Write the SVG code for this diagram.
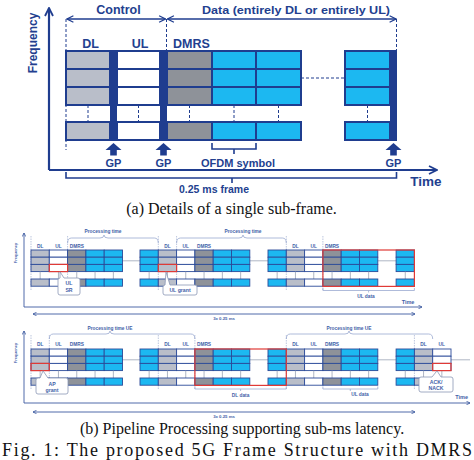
<svg xmlns="http://www.w3.org/2000/svg" width="474" height="460" viewBox="0 0 474 460">
<style>
.at{font-family:"Liberation Sans",Arial,sans-serif;font-weight:bold;fill:#233f8f}
.cell{stroke:#1f3d8f;stroke-width:2}
.dl{fill:#b9bec9}.ul{fill:#fff}.dm{fill:#8e9299}.cy{fill:#1cb8f1}
.gp{fill:#1f3d8f}
.dash{stroke:#1f3d8f;stroke-width:1;stroke-dasharray:3 2;fill:none}
.ax{stroke:#1f3d8f;stroke-width:2.2;fill:none}
.br{stroke:#1f3d8f;stroke-width:1.6;fill:none}
.cap{font-family:"Liberation Serif","Times New Roman",serif;fill:#111}
.bt{font-family:"Liberation Sans",Arial,sans-serif;font-weight:bold;fill:#4361a8}
.bc{stroke:#2b4a99;stroke-width:0.9}
.bdash{stroke:#8ea0c8;stroke-width:0.6;stroke-dasharray:1.5 1;fill:none}
.bax{stroke:#3d5aa0;stroke-width:0.9;fill:none}
.brace{stroke:#9aaad0;stroke-width:0.8;fill:none}
.red{stroke:#e03a36;stroke-width:1.2;fill:none}
.gline{stroke:#9aa3b5;stroke-width:0.8}
.call{fill:#fff;stroke:#8a97b5;stroke-width:0.8}
</style>
<defs>
<marker id="ah" viewBox="0 0 10 10" refX="9" refY="5" markerWidth="8" markerHeight="8" markerUnits="userSpaceOnUse" orient="auto-start-reverse"><path d="M1,1 L9,5 L1,9" fill="none" stroke="#1f3d8f" stroke-width="1.6"/></marker>
<marker id="ahL" viewBox="0 0 10 10" refX="9" refY="5" markerWidth="10" markerHeight="10" markerUnits="userSpaceOnUse" orient="auto-start-reverse"><path d="M1,1 L9,5 L1,9" fill="none" stroke="#1f3d8f" stroke-width="1.8"/></marker>
<marker id="ahs" viewBox="0 0 10 10" refX="9" refY="5" markerWidth="4.5" markerHeight="4.5" markerUnits="userSpaceOnUse" orient="auto-start-reverse"><path d="M1,1 L9,5 L1,9" fill="none" stroke="#3d5aa0" stroke-width="1.8"/></marker>
<path id="gparr" class="gp" d="M-8,150 L0,143 L8,150 L3.3,150 L3.3,155.5 L-3.3,155.5 L-3.3,150 Z"/>
<g id="cDL"><rect class="bc dl" x="0" y="0" width="18.3" height="7.2"/><rect class="bc dl" x="0" y="7.2" width="18.3" height="7.2"/><rect class="bc dl" x="0" y="14.4" width="18.3" height="7.2"/><line class="gline" x1="9.15" y1="21.6" x2="9.15" y2="29"/><rect class="bc dl" x="0" y="29" width="18.3" height="7.2"/></g>
<g id="cUL"><rect class="bc ul" x="0" y="0" width="18.3" height="7.2"/><rect class="bc ul" x="0" y="7.2" width="18.3" height="7.2"/><rect class="bc ul" x="0" y="14.4" width="18.3" height="7.2"/><line class="gline" x1="9.15" y1="21.6" x2="9.15" y2="29"/><rect class="bc ul" x="0" y="29" width="18.3" height="7.2"/></g>
<g id="cDM"><rect class="bc dm" x="0" y="0" width="18.3" height="7.2"/><rect class="bc dm" x="0" y="7.2" width="18.3" height="7.2"/><rect class="bc dm" x="0" y="14.4" width="18.3" height="7.2"/><line class="gline" x1="9.15" y1="21.6" x2="9.15" y2="29"/><rect class="bc dm" x="0" y="29" width="18.3" height="7.2"/></g>
<g id="cCY"><rect class="bc cy" x="0" y="0" width="18.3" height="7.2"/><rect class="bc cy" x="0" y="7.2" width="18.3" height="7.2"/><rect class="bc cy" x="0" y="14.4" width="18.3" height="7.2"/><line class="gline" x1="9.15" y1="21.6" x2="9.15" y2="29"/><rect class="bc cy" x="0" y="29" width="18.3" height="7.2"/></g>
</defs>
<rect width="474" height="460" fill="#fff"/>

<!-- (a) -->
<g id="a-axes">
<line class="ax" x1="49" y1="170" x2="49" y2="8" marker-end="url(#ahL)"/>
<line class="ax" x1="49" y1="170" x2="437" y2="170" marker-end="url(#ahL)"/>
<text class="at" x="37" y="43" font-size="12" text-anchor="middle" transform="rotate(-90 37 43)">Frequency</text>
<text class="at" x="426" y="185.5" font-size="13.5" text-anchor="middle">Time</text>
</g>
<g id="a-dashes">
<line class="dash" x1="66" y1="19" x2="66" y2="150"/>
<line class="dash" x1="166.5" y1="19" x2="166.5" y2="51"/>
<line class="dash" x1="396.5" y1="19" x2="396.5" y2="51"/>
<line class="dash" x1="88" y1="105" x2="88" y2="122"/>
<line class="dash" x1="138.5" y1="105" x2="138.5" y2="122"/>
<line class="dash" x1="189.5" y1="105" x2="189.5" y2="122"/>
<line class="dash" x1="234" y1="105" x2="234" y2="122"/>
<line class="dash" x1="278.5" y1="105" x2="278.5" y2="122"/>
<line class="dash" x1="367.5" y1="105" x2="367.5" y2="122"/>
<line class="dash" x1="301" y1="78" x2="345" y2="78"/>
</g>
<g id="a-control">
<line class="br" x1="67" y1="19" x2="165.5" y2="19" marker-start="url(#ah)" marker-end="url(#ah)"/>
<text class="at" x="118.5" y="14" font-size="12.5" text-anchor="middle">Control</text>
</g>
<g id="a-data">
<line class="br" x1="167.5" y1="19" x2="396" y2="19" marker-start="url(#ah)" marker-end="url(#ah)"/>
<text class="at" x="202" y="14" font-size="11.5" textLength="188" lengthAdjust="spacingAndGlyphs">Data (entirely DL or entirely UL)</text>
</g>
<g id="a-labels">
<text class="at" x="90.5" y="48" font-size="12.5" text-anchor="middle">DL</text>
<text class="at" x="140" y="48" font-size="12.5" text-anchor="middle">UL</text>
<text class="at" x="191.5" y="48" font-size="12.5" text-anchor="middle">DMRS</text>
</g>
<g id="a-grid">
<rect class="cell dl" x="66" y="51" width="44" height="18"/>
<rect class="cell dl" x="66" y="69" width="44" height="18"/>
<rect class="cell dl" x="66" y="87" width="44" height="18"/>
<rect class="cell dl" x="66" y="122" width="44" height="18"/>
<rect class="cell ul" x="117" y="51" width="43" height="18"/>
<rect class="cell ul" x="117" y="69" width="43" height="18"/>
<rect class="cell ul" x="117" y="87" width="43" height="18"/>
<rect class="cell ul" x="117" y="122" width="43" height="18"/>
<rect class="cell dm" x="167" y="51" width="45" height="18"/>
<rect class="cell dm" x="167" y="69" width="45" height="18"/>
<rect class="cell dm" x="167" y="87" width="45" height="18"/>
<rect class="cell dm" x="167" y="122" width="45" height="18"/>
<rect class="cell cy" x="212" y="51" width="44" height="18"/>
<rect class="cell cy" x="212" y="69" width="44" height="18"/>
<rect class="cell cy" x="212" y="87" width="44" height="18"/>
<rect class="cell cy" x="212" y="122" width="44" height="18"/>
<rect class="cell cy" x="256" y="51" width="45" height="18"/>
<rect class="cell cy" x="256" y="69" width="45" height="18"/>
<rect class="cell cy" x="256" y="87" width="45" height="18"/>
<rect class="cell cy" x="256" y="122" width="45" height="18"/>
<rect class="cell cy" x="345" y="51" width="45" height="18"/>
<rect class="cell cy" x="345" y="69" width="45" height="18"/>
<rect class="cell cy" x="345" y="87" width="45" height="18"/>
<rect class="cell cy" x="345" y="122" width="45" height="18"/>
<rect class="gp" x="110" y="50" width="7" height="91"/>
<rect class="gp" x="160" y="50" width="7" height="91"/>
<rect class="gp" x="390" y="50" width="7" height="91"/>
</g>
<g id="a-gp">
<use href="#gparr" x="113.5"/>
<use href="#gparr" x="163.5"/>
<use href="#gparr" x="393.5"/>
<text class="at" x="113.5" y="166.5" font-size="11" text-anchor="middle">GP</text>
<text class="at" x="163.5" y="166.5" font-size="11" text-anchor="middle">GP</text>
<text class="at" x="393.5" y="166.5" font-size="11" text-anchor="middle">GP</text>
</g>
<g id="a-ofdm">
<path class="br" d="M212,143 V149 H256 V143 M234,149 V154"/>
<text class="at" x="238" y="166.5" font-size="11" text-anchor="middle">OFDM symbol</text>
</g>
<g id="a-frame">
<path class="br" d="M66,172 V178 H396.5 V172 M232,178 V183"/>
<text class="at" x="214" y="193" font-size="10.5" text-anchor="middle">0.25 ms frame</text>
</g>
<text class="cap" x="231.5" y="214" font-size="16" text-anchor="middle">(a) Details of a single sub-frame.</text>

<!-- (b) panel 1 -->
<g id="b1-axes">
<line class="bax" x1="24" y1="307" x2="24" y2="233" marker-end="url(#ahs)"/>
<line class="bax" x1="24" y1="307" x2="422" y2="307" marker-end="url(#ahs)"/>
<text class="bt" x="17" y="253" font-size="4" text-anchor="middle" transform="rotate(-90 17 253)">Frequency</text>
<text class="bt" x="408" y="304" font-size="5.5" text-anchor="middle">Time</text>
</g>
<g id="b1-dashes">
<line class="bdash" x1="31" y1="236" x2="31" y2="290"/>
<line class="bdash" x1="67.6" y1="236" x2="67.6" y2="290"/>
<line class="bdash" x1="158.3" y1="236" x2="158.3" y2="290"/>
<line class="bdash" x1="176.6" y1="236" x2="176.6" y2="290"/>
<line class="bdash" x1="286.3" y1="236" x2="286.3" y2="290"/>
<line class="bdash" x1="322.9" y1="236" x2="322.9" y2="290"/>
</g>
<g id="b1-braces">
<path class="brace" d="M67.6,243 Q67.6,238 71.6,238 H100 Q104,238 104,235 Q104,238 108,238 H154.3 Q158.3,238 158.3,243"/>
<text class="bt" x="103" y="233" font-size="4.8" text-anchor="middle">Processing time</text>
<path class="brace" d="M176.6,243 Q176.6,238 180.6,238 H239 Q243,238 243,235 Q243,238 247,238 H282.3 Q286.3,238 286.3,243"/>
<text class="bt" x="243" y="232.5" font-size="4.8" text-anchor="middle">Processing time</text>
</g>
<g id="b1-labels" font-size="4.8" text-anchor="middle">
<text class="bt" x="40.2" y="248">DL</text><text class="bt" x="58.5" y="248">UL</text><text class="bt" x="76.8" y="248">DMRS</text>
<text class="bt" x="167.5" y="248">DL</text><text class="bt" x="185.8" y="248">UL</text><text class="bt" x="204" y="248">DMRS</text>
<text class="bt" x="295.5" y="248">DL</text><text class="bt" x="313.8" y="248">UL</text><text class="bt" x="332" y="248">DMRS</text>
</g>
<g id="b1-connectors">
<line class="gline" x1="122.5" y1="260.8" x2="140" y2="260.8"/>
<line class="gline" x1="249.8" y1="260.8" x2="268" y2="260.8"/>
<line class="gline" x1="377.8" y1="260.8" x2="396.1" y2="260.8"/>
</g>
<g id="b1-grid">
<use href="#cDL" x="31" y="250"/><use href="#cUL" x="49.3" y="250"/><use href="#cDM" x="67.6" y="250"/><use href="#cCY" x="85.9" y="250"/><use href="#cCY" x="104.2" y="250"/>
<use href="#cCY" x="140" y="250"/><use href="#cDL" x="158.3" y="250"/><use href="#cUL" x="176.6" y="250"/><use href="#cDM" x="194.9" y="250"/><use href="#cCY" x="213.2" y="250"/><use href="#cCY" x="231.5" y="250"/>
<use href="#cCY" x="268" y="250"/><use href="#cDL" x="286.3" y="250"/><use href="#cUL" x="304.6" y="250"/><use href="#cDM" x="322.9" y="250"/><use href="#cCY" x="341.2" y="250"/><use href="#cCY" x="359.5" y="250"/><use href="#cCY" x="396.1" y="250"/>
</g>
<g id="b1-red">
<rect class="red" x="49.3" y="264.4" width="18.3" height="7.2"/>
<rect class="red" x="158.3" y="264.4" width="18.3" height="7.2"/>
<rect class="red" x="322.9" y="250" width="91.5" height="36.4"/>
</g>
<g id="b1-ulsr">
<path class="call" d="M60,271.8 L64,278 H78 Q80,278 80,280 V293 Q80,295 78,295 H60 Q58,295 58,293 V280 Q58,278 60,278 Z"/>
<text class="bt" x="69" y="285" font-size="5.2" text-anchor="middle">UL</text>
<text class="bt" x="69" y="291.5" font-size="5.2" text-anchor="middle">SR</text>
</g>
<g id="b1-ulgrant">
<path class="call" d="M166,271.8 L170,285 H195 Q197,285 197,287 V293 Q197,295 195,295 H165 Q163,295 163,293 V287 Q163,285 165,285 Z"/>
<text class="bt" x="180" y="292" font-size="5.2" text-anchor="middle">UL grant</text>
</g>
<g id="b1-uldata">
<path class="brace" d="M322.9,288 V290.5 H414.4 V288 M368.6,290.5 V292.5"/>
<text class="bt" x="366" y="298" font-size="4.8" text-anchor="middle">UL data</text>
</g>
<g id="b1-span">
<line class="bax" x1="33" y1="314" x2="415" y2="314" marker-start="url(#ahs)" marker-end="url(#ahs)"/>
<text class="bt" x="224" y="319.5" font-size="4.3" text-anchor="middle">3x 0.25 ms</text>
</g>

<!-- (b) panel 2 -->
<g id="b2-axes">
<line class="bax" x1="24" y1="403" x2="24" y2="331" marker-end="url(#ahs)"/>
<line class="bax" x1="24" y1="403" x2="470" y2="403" marker-end="url(#ahs)"/>
<text class="bt" x="17" y="353" font-size="4" text-anchor="middle" transform="rotate(-90 17 353)">Frequency</text>
<text class="bt" x="468" y="399" font-size="5.5" text-anchor="end">Time</text>
</g>
<g id="b2-dashes">
<line class="bdash" x1="31" y1="335" x2="31" y2="389"/>
<line class="bdash" x1="49.3" y1="335" x2="49.3" y2="389"/>
<line class="bdash" x1="158.3" y1="335" x2="158.3" y2="389"/>
<line class="bdash" x1="194.9" y1="335" x2="194.9" y2="389"/>
<line class="bdash" x1="286.3" y1="335" x2="286.3" y2="389"/>
<line class="bdash" x1="414.4" y1="335" x2="414.4" y2="389"/>
</g>
<g id="b2-braces">
<path class="brace" d="M49.3,339 Q49.3,334 53.3,334 H106 Q110,334 110,331 Q110,334 114,334 H190.9 Q194.9,334 194.9,339"/>
<text class="bt" x="110" y="329.5" font-size="4.8" text-anchor="middle">Processing time UE</text>
<path class="brace" d="M286.3,339 Q286.3,334 290.3,334 H345 Q349,334 349,331 Q349,334 353,334 H428.7 Q432.7,334 432.7,339"/>
<text class="bt" x="349" y="329.5" font-size="4.8" text-anchor="middle">Processing time UE</text>
</g>
<g id="b2-labels" font-size="4.8" text-anchor="middle">
<text class="bt" x="40.2" y="346">DL</text><text class="bt" x="58.5" y="346">UL</text><text class="bt" x="76.8" y="346">DMRS</text>
<text class="bt" x="167.5" y="346">DL</text><text class="bt" x="185.8" y="346">UL</text><text class="bt" x="204" y="346">DMRS</text>
<text class="bt" x="295.5" y="346">DL</text><text class="bt" x="313.8" y="346">UL</text><text class="bt" x="332" y="346">DMRS</text>
<text class="bt" x="423.5" y="346">DL</text><text class="bt" x="441.8" y="346">UL</text>
</g>
<g id="b2-connectors">
<line class="gline" x1="122.5" y1="359.8" x2="140" y2="359.8"/>
<line class="gline" x1="249.8" y1="359.8" x2="268" y2="359.8"/>
<line class="gline" x1="377.8" y1="359.8" x2="396.1" y2="359.8"/>
<line class="gline" x1="451" y1="359.8" x2="470" y2="359.8"/>
</g>
<g id="b2-grid">
<use href="#cDL" x="31" y="349"/><use href="#cUL" x="49.3" y="349"/><use href="#cDM" x="67.6" y="349"/><use href="#cCY" x="85.9" y="349"/><use href="#cCY" x="104.2" y="349"/>
<use href="#cCY" x="140" y="349"/><use href="#cDL" x="158.3" y="349"/><use href="#cUL" x="176.6" y="349"/><use href="#cDM" x="194.9" y="349"/><use href="#cCY" x="213.2" y="349"/><use href="#cCY" x="231.5" y="349"/><use href="#cCY" x="268" y="349"/><use href="#cDL" x="286.3" y="349"/><use href="#cUL" x="304.6" y="349"/><use href="#cDM" x="322.9" y="349"/><use href="#cCY" x="341.2" y="349"/><use href="#cCY" x="359.5" y="349"/>
<use href="#cCY" x="396.1" y="349"/><use href="#cDL" x="414.4" y="349"/><use href="#cUL" x="432.7" y="349"/>
</g>
<g id="b2-red">
<rect class="red" x="31" y="363.4" width="18.3" height="7.2"/>
<rect class="red" x="194.9" y="349" width="91.4" height="36.4"/>
<rect class="red" x="432.7" y="363.4" width="18.3" height="7.2"/>
</g>
<g id="b2-apgrant">
<path class="call" d="M43,370.8 L48,378 H66 Q68,378 68,380 V392 Q68,394 66,394 H38 Q36,394 36,392 V380 Q36,378 38,378 H40 Z"/>
<text class="bt" x="52" y="385.5" font-size="5.2" text-anchor="middle">AP</text>
<text class="bt" x="52" y="391.5" font-size="5.2" text-anchor="middle">grant</text>
</g>
<g id="b2-ack">
<path class="call" d="M437,370.8 L441,377 H451 Q453,377 453,379 V390 Q453,392 451,392 H421 Q419,392 419,390 V379 Q419,377 421,377 H432 Z"/>
<text class="bt" x="436" y="384" font-size="5.2" text-anchor="middle">ACK/</text>
<text class="bt" x="436" y="390" font-size="5.2" text-anchor="middle">NACK</text>
</g>
<g id="b2-dldata">
<path class="brace" d="M194.9,386.5 V389 H286.3 V386.5 M240.6,389 V391"/>
<text class="bt" x="240.6" y="396.5" font-size="4.8" text-anchor="middle">DL data</text>
</g>
<g id="b2-uldata">
<path class="brace" d="M322.9,386.5 V389 H377.8 V386.5 M350.3,389 V391"/>
<text class="bt" x="360" y="396" font-size="4.8" text-anchor="middle">UL data</text>
</g>
<g id="b2-span">
<line class="bax" x1="33" y1="412" x2="415" y2="412" marker-start="url(#ahs)" marker-end="url(#ahs)"/>
<text class="bt" x="224" y="417.5" font-size="4.3" text-anchor="middle">3x 0.25 ms</text>
</g>
<text class="cap" x="242" y="434" font-size="16" text-anchor="middle">(b) Pipeline Processing supporting sub-ms latency.</text>
<text class="cap" x="2" y="456" font-size="18" textLength="470" lengthAdjust="spacing">Fig. 1: The proposed 5G Frame Structure with DMRS</text>
</svg>
